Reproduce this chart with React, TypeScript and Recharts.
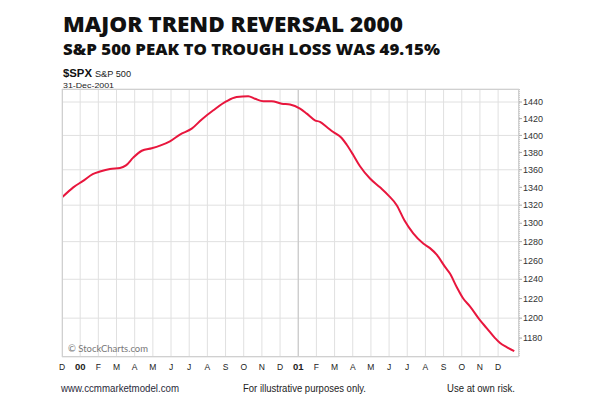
import React from 'react';
import { LineChart, Line, XAxis, YAxis, CartesianGrid, ReferenceLine } from 'recharts';

// months elapsed since 1-Dec-1999
const monthPos = [
  0.02, 0.62, 1.14, 1.69, 2.09, 2.64, 3.19, 3.52, 3.92, 4.39, 4.94, 5.39, 5.94, 6.49, 7.14,
  7.69, 8.33, 9.06, 9.61, 10.25, 10.62, 11.08, 11.54, 12.09, 12.55, 13.1, 13.47, 13.92, 14.2,
  14.57, 14.93, 15.39, 15.67, 16.03, 16.4, 16.95, 17.5, 17.96, 18.42, 18.85, 19.33, 19.88,
  20.25, 20.62, 21.08, 21.35, 21.72, 22.08, 22.45, 23.0, 23.37, 23.83, 24.11, 24.47, 24.89,
];

const spx = [
  1329, 1340, 1347, 1355, 1358, 1361, 1362, 1365, 1374, 1382, 1385, 1388, 1393, 1401, 1408,
  1419, 1430, 1441, 1446, 1447, 1444, 1441, 1441, 1438, 1437, 1432, 1426, 1418, 1416,
  1410, 1404, 1397, 1389, 1377, 1364, 1350, 1340, 1331, 1320, 1303, 1289, 1278,
  1273, 1266, 1253, 1246, 1232, 1220, 1212, 1198, 1190, 1180, 1175, 1171, 1167,
];

const monthLabels = ['D', '00', 'F', 'M', 'A', 'M', 'J', 'J', 'A', 'S', 'O', 'N', 'D',
  '01', 'F', 'M', 'A', 'M', 'J', 'J', 'A', 'S', 'O', 'N', 'D'];

const priceTicks = [1180, 1200, 1220, 1240, 1260, 1280, 1300, 1320, 1340, 1360, 1380, 1400, 1420, 1440];

const data = monthPos.map((m, i) => ({ m, close: spx[i] }));
const monthTicks = monthLabels.map((_, i) => i);

const MonthTick = (props: any) => {
  const { x, y, payload } = props;
  const label = monthLabels[payload.value];
  const isYear = label === '00' || label === '01';
  return (
    <text x={x} y={y + 4.5} textAnchor="middle" fontSize={isYear ? 9.5 : 8.5}
      fontWeight={isYear ? 700 : 400} fill="#222" fontFamily="Liberation Sans, Arial">
      {label}
    </text>
  );
};

export default function App() {
  return (
    <div style={{ position: 'absolute', left: 0, top: 0, width: 600, height: 404, background: '#fff' }}>
      <LineChart width={600} height={404} data={data}
        margin={{ top: 89, right: 31, bottom: 27, left: 62 }}>
        <CartesianGrid stroke="#e0e0e0" strokeWidth={1} />
        <XAxis dataKey="m" type="number" domain={[0, 25.15]} ticks={monthTicks}
          tick={<MonthTick />} tickLine={false} axisLine={false} height={20}
          allowDataOverflow interval={0} />
        <YAxis orientation="right" scale="log" domain={[1161.3, 1455.9]} allowDataOverflow
          ticks={priceTicks} width={50} tickSize={3} tickMargin={1}
          axisLine={{ stroke: '#aaa', strokeDasharray: '1 1' }} tickLine={{ stroke: '#aaa' }}
          tick={{ fontSize: 9, fill: '#333', fontFamily: 'Liberation Sans, Arial', textAnchor: 'start' }} />
        <ReferenceLine x={13} stroke="#c4c4c4" />
        <Line type="monotone" dataKey="close" stroke="#e8163d" strokeWidth={2}
          dot={false} isAnimationActive={false} />
      </LineChart>
      <div style={{ position: 'absolute', left: 62, top: 89, width: 457, height: 268,
        border: '1px solid #d0d0d0', boxSizing: 'border-box', pointerEvents: 'none' }} />
      <svg width={600} height={404} style={{ position: 'absolute', left: 0, top: 0, pointerEvents: 'none' }}>
        <text x={63} y={32} fontFamily="Open Sans" fontWeight={800} fontSize={21} fill="#111"
          textLength={340} lengthAdjust="spacingAndGlyphs">MAJOR TREND REVERSAL 2000</text>
        <text x={63} y={55} fontFamily="Open Sans" fontWeight={800} fontSize={15.5} fill="#111"
          textLength={377} lengthAdjust="spacingAndGlyphs">S&amp;P 500 PEAK TO TROUGH LOSS WAS 49.15%</text>
        <text x={63} y={77} fontFamily="Liberation Sans, Arial" fontWeight={700} fontSize={11.5} fill="#111"
          textLength={29} lengthAdjust="spacingAndGlyphs">$SPX</text>
        <text x={95} y={77} fontFamily="Liberation Sans, Arial" fontSize={8.5} fill="#222"
          textLength={36} lengthAdjust="spacingAndGlyphs">S&amp;P 500</text>
        <text x={63} y={87.5} fontFamily="Liberation Sans, Arial" fontSize={8} fill="#222"
          textLength={51} lengthAdjust="spacingAndGlyphs">31-Dec-2001</text>
        <text x={68} y={352} fontFamily="Lato, Open Sans" fontSize={9.5} fill="#777"
          textLength={80} lengthAdjust="spacingAndGlyphs">© StockCharts.com</text>
        <text x={61} y={392} fontFamily="Liberation Sans, Arial" fontSize={10} fill="#2a2a3a"
          textLength={118} lengthAdjust="spacingAndGlyphs">www.ccmmarketmodel.com</text>
        <text x={243} y={392} fontFamily="Liberation Sans, Arial" fontSize={10} fill="#222"
          textLength={123} lengthAdjust="spacingAndGlyphs">For illustrative purposes only.</text>
        <text x={447} y={392} fontFamily="Liberation Sans, Arial" fontSize={10} fill="#222"
          textLength={68} lengthAdjust="spacingAndGlyphs">Use at own risk.</text>
      </svg>
    </div>
  );
}
